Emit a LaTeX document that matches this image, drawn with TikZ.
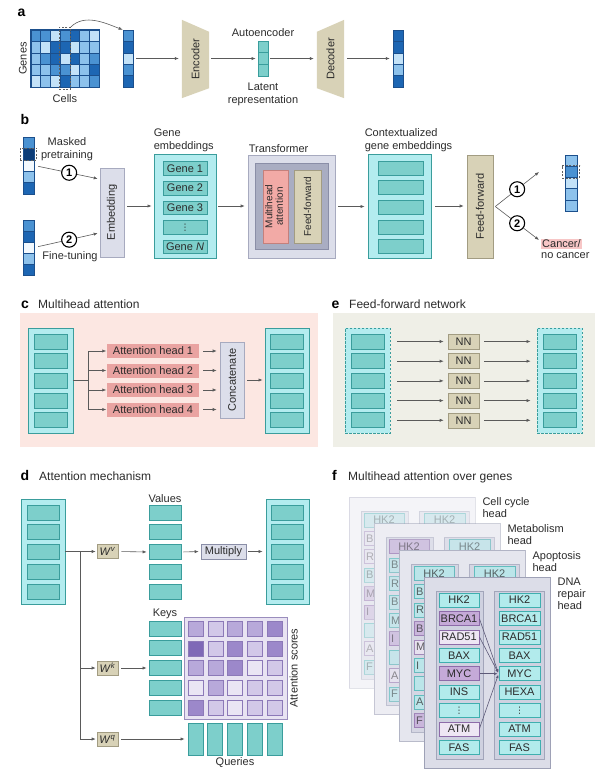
\documentclass[tikz,border=0pt]{standalone}
\usepackage{graphicx}
\usepackage{fontspec}
\setmainfont{Liberation Sans}
\newfontfamily\symfont{DejaVu Sans}
\usetikzlibrary{positioning,arrows.meta,calc,fit,backgrounds}
\setlength{\fboxsep}{1pt}

\definecolor{txt}{HTML}{2B2B2B}
\definecolor{arrowc}{HTML}{5A5A5A}
\definecolor{gexp0}{HTML}{F3F9FE}
\definecolor{gexp1}{HTML}{C3E2F8}
\definecolor{gexp2}{HTML}{8DC2EC}
\definecolor{gexp3}{HTML}{4A92D2}
\definecolor{gexp4}{HTML}{1D66B3}
\definecolor{gexp5}{HTML}{0C3D78}
\definecolor{gbord}{HTML}{1B4F8C}
\definecolor{cyanl}{HTML}{B3ECEF}
\definecolor{tealm}{HTML}{7DCFCB}
\definecolor{tealb}{HTML}{3A9D9C}
\definecolor{beige}{HTML}{D8D2B7}
\definecolor{beiged}{HTML}{A29C82}
\definecolor{lav}{HTML}{DCDEEA}
\definecolor{lavd}{HTML}{A7AABF}
\definecolor{lavdk}{HTML}{A9ADC2}
\definecolor{lavdkb}{HTML}{8A8EA7}
\definecolor{headf}{HTML}{E9A3A1}
\definecolor{mhaf}{HTML}{F2AAA6}
\definecolor{mhab}{HTML}{C4807C}
\definecolor{pinkbg}{HTML}{FCE7E2}
\definecolor{cancerbg}{HTML}{F7C6C6}
\definecolor{ebg}{HTML}{EFEFE7}
\definecolor{attn1}{HTML}{EAE5F4}
\definecolor{attn2}{HTML}{D2C8E8}
\definecolor{attn3}{HTML}{B8A9DA}
\definecolor{attn4}{HTML}{9C88CA}
\definecolor{attn5}{HTML}{7F69B7}
\definecolor{attnb}{HTML}{8C79B8}
\definecolor{scorebg}{HTML}{E8E3F2}
\definecolor{scoreb}{HTML}{9A8DBD}
\definecolor{gcy}{HTML}{B2EBEC}
\definecolor{gcyb}{HTML}{3FAFAF}
\definecolor{gpu}{HTML}{C5AAD8}
\definecolor{glv}{HTML}{EEE6F4}
\definecolor{gpub}{HTML}{8D6BA9}
\definecolor{cardf}{HTML}{DCDDE8}
\definecolor{cardb}{HTML}{9EA1B6}
\definecolor{colf}{HTML}{CFD1E0}
\definecolor{colb}{HTML}{A2A5BA}
\definecolor{genarr}{HTML}{5D5A78}

\begin{document}
\begin{tikzpicture}[x=1pt, y=-1pt,
    font=\fontsize{11}{13}\selectfont,
    lbl/.style={text=txt, inner sep=1pt},
    ttl/.style={font=\fontsize{12}{14}\selectfont, text=txt, inner sep=0pt, anchor=base west},
    ptag/.style={font=\fontsize{14}{14}\selectfont\bfseries, text=black, inner sep=0pt, anchor=base},
    wh/.style 2 args={minimum width=#1, minimum height=#2, inner sep=0pt},
    arr/.style={draw=arrowc, line width=0.6pt, -{Latex[length=4pt, width=3.2pt]}},
    conn/.style={draw=arrowc, line width=0.6pt},
    gcell/.style={draw=gbord, line width=0.5pt},
    dashbox/.style={draw=txt!75, dash pattern=on 2pt off 1.5pt, line width=0.6pt, inner sep=0pt},
    embbox/.style={draw=tealb, fill=cyanl, line width=0.8pt},
    slot/.style={draw=tealb, fill=tealm, line width=0.7pt, text=txt},
    beigebox/.style={draw=beiged, fill=beige, line width=0.6pt, text=txt},
    lavbox/.style={draw=lavd, fill=lav, line width=0.6pt, text=txt},
    headbox/.style={fill=headf, text=txt},
    numc/.style={circle, draw=black, line width=1.1pt, fill=white, minimum size=15pt, inner sep=0pt, font=\fontsize{11}{11}\selectfont\bfseries},
    acell/.style={draw=attnb, line width=0.5pt, wh={15pt}{15pt}},
    card/.style={draw=cardb, fill=cardf, line width=0.7pt, wh={126pt}{191pt}},
    gcol/.style={draw=colb, fill=colf, line width=0.6pt, wh={47pt}{168pt}},
    gbox/.style={line width=0.7pt, text=txt, wh={40pt}{14pt}},
    gt/.style={gbox, fill=gcy, draw=gcyb},
    gp/.style={gbox, fill=gpu, draw=gpub},
    gl/.style={gbox, fill=glv, draw=gpub},
    gtb/.style={gt, text width=36pt, align=left},
    gpb/.style={gp, text width=36pt, align=left},
    glb/.style={gl, text width=36pt, align=left},
    garr/.style={draw=genarr, line width=0.6pt, -{Latex[length=3.5pt, width=2.8pt]}}
]
\useasboundingbox (0,0) rectangle (603,770);

% a: autoencoder
\node[ptag] (taga) at (21.5,17) {a};
\foreach \row [count=\ri] in {{3,3,1,3,4,2,1},{2,1,4,4,1,2,2},{2,3,4,1,4,2,3},{2,2,3,3,1,2,4},{1,2,1,4,2,2,3}}
  \foreach \lev [count=\ci] in \row
    \node[gcell, wh={9.7pt}{11.4pt}, fill=gexp\lev] (m\ri\ci) at ({31+9.7*(\ci-0.5)},{30+11.4*(\ri-0.5)}) {};
\draw[gbord, line width=0.8pt] (m11.north west) rectangle (m57.south east);
\node[dashbox, fit=(m14)(m54), inner xsep=0.5pt, inner ysep=2.5pt] (maskcol) {};
\node[lbl, rotate=90] (geneslbl) at ($(m31.west)+(-8,0)$) {Genes};
\node[lbl, below=3pt of maskcol] (cellslbl) {Cells};
\foreach \lev [count=\i] in {3,4,1,3,4}
  \node[gcell, wh={10pt}{11.4pt}, fill=gexp\lev] (vin\i) at (128,{30+11.4*(\i-0.5)}) {};
\draw[arr] (maskcol.north east) .. controls +(14,-14) and +(-16,-6) .. (vin1.north west);

\node[wh={27pt}{78pt}, text=txt] (enc) at (195.5,59) {\rotatebox{90}{Encoder}};
\foreach \i in {1,2,3}
  \node[slot, wh={10pt}{11.7pt}] (lat\i) at (263,{41+11.7*(\i-0.5)}) {};
\node[lbl, above=3pt of lat1] (autolbl) {Autoencoder};
\node[lbl, below=5pt of lat3, align=center] (latlbl) {Latent\\representation};
\node[wh={27pt}{78pt}, text=txt] (dec) at (330.5,59) {\rotatebox{90}{Decoder}};
\foreach \lev [count=\i] in {4,4,1,2,4}
  \node[gcell, wh={10pt}{11.4pt}, fill=gexp\lev] (vout\i) at (398,{30+11.4*(\i-0.5)}) {};
\begin{scope}[on background layer]
  \fill[beige] (enc.north west) -- ($(enc.north east)+(0,12)$) -- ($(enc.south east)+(0,-10)$) -- (enc.south west) -- cycle;
  \fill[beige] ($(dec.north west)+(0,12)$) -- (dec.north east) -- (dec.south east) -- ($(dec.south west)+(0,-10)$) -- cycle;
\end{scope}
\draw[arr, shorten <=3pt, shorten >=3pt] (vin3.east) -- (vin3.east -| enc.west);
\draw[arr, shorten <=2pt, shorten >=2pt] (enc.east |- lat2) -- (lat2.west);
\draw[arr, shorten <=2pt, shorten >=3pt] (lat2.east) -- (lat2.east -| dec.west);
\draw[arr, shorten <=3pt, shorten >=3pt] (dec.east |- vout3) -- (vout3.west);

% b: transformer model
\node[ptag] (tagb) at (25,125) {b};
\foreach \lev [count=\i] in {3,5,0,2,4}
  \node[gcell, wh={11pt}{11.4pt}, fill=gexp\lev] (bp\i) at (28.5,{137+11.4*(\i-0.5)}) {};
\node[dashbox, fit=(bp2), inner xsep=2.5pt, inner ysep=0.3pt] (maskcell) {};
\node[lbl, align=center] (masklbl) at (67,149) {Masked\\pretraining};
\foreach \lev [count=\i] in {3,4,0,2,4}
  \node[gcell, wh={11pt}{11pt}, fill=gexp\lev] (bf\i) at (28.5,{220+11*(\i-0.5)}) {};
\node[lbl] (ftlbl) at (70,257) {Fine-tuning};
\node[lavbox, wh={24pt}{89pt}] (emb) at (112,212.5) {\rotatebox{90}{Embedding}};
\coordinate (embin1) at ($(emb.north west)+(-2,11)$);
\coordinate (embin2) at ($(emb.south west)+(-2,-24)$);
\draw[arr, shorten <=4pt] (bp3.east) -- (embin1);
\draw[arr, shorten <=4pt] (bf3.east) -- (embin2);
\node[numc] (num1) at ($(bp3.east)!0.55!(embin1)$) {1};
\node[numc] (num2) at ($(bf3.east)!0.55!(embin2)$) {2};

\node[embbox, wh={62pt}{104pt}] (genes) at (185,206) {};
\foreach \gn [count=\i] in {Gene 1,Gene 2,Gene 3,{\symfont\fontsize{9}{9}\selectfont ⋮},Gene \textit{N}}
  \node[slot, wh={44pt}{13.5pt}] (gene\i) at (185,{168.5+19.6*(\i-1)}) {\gn};
\node[lbl, align=left, anchor=south west] (genelbl) at ($(genes.north west)+(-1,-1)$) {Gene\\embeddings};
\draw[arr, shorten <=3pt, shorten >=2pt] (emb.east |- genes.west) -- (genes.west);

\node[lavbox, wh={87pt}{103pt}] (trans) at (291.5,206.5) {};
\node[draw=lavdkb, fill=lavdk, line width=0.6pt, wh={73pt}{86pt}] (transin) at (trans) {};
\node[draw=mhab, fill=mhaf, line width=0.6pt, text=txt, wh={25pt}{73pt}, font=\fontsize{10}{10.5}\selectfont] (mha) at (275.5,206.5) {\rotatebox{90}{\begin{tabular}{@{}c@{}}Multihead\\attention\end{tabular}}};
\node[beigebox, wh={27pt}{73pt}, font=\fontsize{10}{12}\selectfont] (ffin) at (307.5,206.5) {\rotatebox{90}{Feed-forward}};
\node[lbl, anchor=south west] (translbl) at ($(trans.north west)+(0,-1)$) {Transformer};
\draw[arr, shorten <=2pt, shorten >=3pt] (genes.east) -- (genes.east -| trans.west);

\node[embbox, wh={63pt}{104pt}] (ctx) at (399.5,206) {};
\foreach \i in {1,...,5}
  \node[slot, wh={45pt}{14pt}] (ctx\i) at (400.5,{168+19.7*(\i-1)}) {};
\node[lbl, align=left, anchor=south west] (ctxlbl) at ($(ctx.north west)+(-4,-1)$) {Contextualized\\gene embeddings};
\draw[arr, shorten <=3pt, shorten >=3pt] (trans.east) -- (trans.east -| ctx.west);
\node[beigebox, wh={26pt}{103pt}] (ffo) at (480,206.5) {\rotatebox{90}{Feed-forward}};
\draw[arr, shorten <=4pt, shorten >=3pt] (ctx.east) -- (ctx.east -| ffo.west);
\coordinate (fork) at ($(ffo.east)+(2,0)$);
\coordinate (out1) at (539,172);
\coordinate (out2) at (539,240);
\draw[arr] (fork) -- (out1);
\draw[arr] (fork) -- (out2);
\node[numc] (num3) at ($(fork)!0.5!(out1)$) {1};
\node[numc] (num4) at ($(fork)!0.5!(out2)$) {2};
\foreach \lev [count=\i] in {2,3,1,2,2}
  \node[gcell, wh={12pt}{11.2pt}, fill=gexp\lev] (bo\i) at (571,{155+11.2*(\i-0.5)}) {};
\node[dashbox, fit=(bo2), inner xsep=2.5pt, inner ysep=0.3pt] (maskout) {};
\node[lbl, align=left, anchor=west, font=\fontsize{11}{11}\selectfont] (cancerlbl) at (540,249) {\colorbox{cancerbg}{Cancer/}\\no cancer};

% c: multihead attention
\node[fill=pinkbg, wh={298pt}{134pt}] (bgc) at (169,380) {};
\node[ptag] (tagc) at (25,308) {c};
\node[ttl] (ttlc) at (38,308) {Multihead attention};
\node[embbox, wh={45pt}{105pt}] (cin) at (50.5,380.5) {};
\foreach \i in {1,...,5}
  \node[slot, wh={33pt}{15pt}] (cin\i) at (50.5,{341.5+19.7*(\i-1)}) {};
\node[lavbox, wh={24pt}{76pt}] (concat) at (232,380) {\rotatebox{90}{Concatenate}};
\node[embbox, wh={44pt}{105pt}] (cout) at (287,380.5) {};
\foreach \i in {1,...,5}
  \node[slot, wh={33pt}{15pt}] (cout\i) at (287,{341.5+19.7*(\i-1)}) {};
\coordinate (cfork) at ($(cin.east)+(15,0)$);
\foreach \i in {1,...,4} {
  \node[headbox, wh={92pt}{14pt}] (head\i) at (153,{351+19.5*(\i-1)}) {Attention head \i};
  \draw[arr, shorten >=0.5pt] (cfork |- head\i) -- (head\i.west);
  \draw[arr, shorten <=4pt, shorten >=3pt] (head\i.east) -- (head\i.east -| concat.west);
}
\draw[conn] (cin.east) -- (cfork);
\draw[conn] (cfork |- head1) -- (cfork |- head4);
\draw[arr, shorten <=3pt, shorten >=2pt] (concat.east) -- (concat.east -| cout.west);

% e: feed-forward network
\node[fill=ebg, wh={262pt}{134pt}] (bge) at (464,380) {};
\node[ptag] (tage) at (335.5,308) {e};
\node[ttl] (ttle) at (349,308) {Feed-forward network};
\node[embbox, dash pattern=on 2.5pt off 1.5pt, wh={45pt}{105pt}] (ein) at (367.5,380.5) {};
\node[embbox, dash pattern=on 2.5pt off 1.5pt, wh={45pt}{105pt}] (eout) at (559.5,380.5) {};
\foreach \i in {1,...,5} {
  \node[slot, wh={33pt}{15pt}] (ein\i) at (367.5,{341.5+19.7*(\i-1)}) {};
  \node[slot, wh={33pt}{15pt}] (eout\i) at (559.5,{341.5+19.7*(\i-1)}) {};
  \node[beigebox, wh={31pt}{15pt}] (nn\i) at (463.5,{341.5+19.7*(\i-1)}) {NN};
  \draw[arr, shorten <=7pt, shorten >=4pt] (ein\i -| ein.east) -- (nn\i.west);
  \draw[arr, shorten <=5pt, shorten >=6pt] (nn\i.east) -- (nn\i -| eout.west);
}

% d: attention mechanism
\node[ptag] (tagd) at (25,480) {d};
\node[ttl] (ttld) at (39,480) {Attention mechanism};
\node[embbox, wh={44pt}{105pt}] (din) at (43,551.5) {};
\node[embbox, wh={43pt}{105pt}] (dout) at (287.5,551.5) {};
\foreach \i in {1,...,5} {
  \node[slot, wh={32pt}{15pt}] (din\i) at (43,{512.5+19.75*(\i-1)}) {};
  \node[slot, wh={32pt}{15pt}] (dout\i) at (287.5,{512.5+19.75*(\i-1)}) {};
  \node[slot, wh={32pt}{15pt}] (val\i) at (165,{512.5+19.75*(\i-1)}) {};
  \node[slot, wh={32pt}{15pt}] (key\i) at (165,{628.5+19.75*(\i-1)}) {};
}
\node[lbl, above=1pt of val1] (vallbl) {Values};
\node[lbl, above=1pt of key1] (keylbl) {Keys};
\coordinate (dfork) at ($(din.east)+(15,0)$);
\node[beigebox, wh={21pt}{14pt}] (wv) at (107.5,551.5) {\textit{W}\textsuperscript{\textit{v}}};
\node[beigebox, wh={21pt}{14pt}] (wk) at (107.5,668) {\textit{W}\textsuperscript{\textit{k}}};
\node[beigebox, wh={21pt}{14pt}] (wq) at (107.5,739) {\textit{W}\textsuperscript{\textit{q}}};
\draw[conn] (din.east) -- (dfork) -- (dfork |- wq);
\draw[arr, shorten >=1pt] (dfork) -- (wv.west);
\draw[arr, shorten >=1pt] (dfork |- wk) -- (wk.west);
\draw[arr, shorten >=1pt] (dfork |- wq) -- (wq.west);
\draw[arr, shorten <=3pt, shorten >=2pt] (wv.east) -- (val3.west);
\draw[arr, shorten <=3pt, shorten >=2pt] (wk.east) -- (key3.west);
\node[lavbox, draw=lavdkb, wh={45pt}{15pt}] (mult) at (223.5,551.5) {Multiply};
\draw[arr, shorten <=2pt, shorten >=2pt] (val3.east) -- (mult.west);
\draw[arr, shorten <=2pt, shorten >=3pt] (mult.east) -- (mult.east -| dout.west);
\node[draw=scoreb, fill=scorebg, line width=0.7pt, wh={103pt}{102pt}] (scores) at (235.5,668) {};
\foreach \row [count=\ri] in {{3,2,3,3,4},{5,2,4,2,4},{3,3,4,1,2},{1,3,1,2,2},{4,2,1,2,2}}
  \foreach \lev [count=\ci] in \row
    \node[acell, fill=attn\lev] (a\ri\ci) at ({195.5+19.75*(\ci-1)},{628.5+19.75*(\ri-1)}) {};
\node[lbl, right=1pt of scores] (scorelbl) {\rotatebox{90}{Attention scores}};
\foreach \i in {1,...,5}
  \node[slot, wh={15pt}{32pt}] (q\i) at ({195.5+19.75*(\i-1)},739) {};
\node[lbl, below=1pt of q3] (querylbl) {Queries};
\draw[arr, shorten <=3pt, shorten >=3pt] (wq.east) -- (q1.west);

% f: multihead attention over genes
\node[ptag] (tagf) at (334.5,480) {f};
\node[ttl] (ttlf) at (348,480) {Multihead attention over genes};
\foreach \k/\op/\hd/\lcol in {1/0.3/{Cell cycle\\head}/{HK2/gt,B/glb,R/glb,B/gtb,M/gpb,I/gpb,/gtb,A/glb,F/gtb},
    2/0.5/{Metabolism\\head}/{HK2/gp,B/gtb,R/gtb,B/gtb,M/gtb,I/gpb,/gtb,A/glb,F/gtb},
    3/0.72/{Apoptosis\\head}/{HK2/gt,B/gtb,R/gtb,B/gpb,M/glb,I/gtb,/gtb,A/gtb,F/gpb},
    4/1/{DNA\\repair\\head}/{HK2/gt,BRCA1/gp,RAD51/gl,BAX/gt,MYC/gp,INS/gt,{\symfont\fontsize{9}{9}\selectfont ⋮}/gt,ATM/gl,FAS/gt}} {
  \begin{scope}[shift={({25*(\k-1)},{26.7*(\k-1)})}]
    \node[card, fill=white, draw=none] (cardbg\k) at (412,592.5) {};
    \begin{scope}[opacity=\op]
      \node[card] (card\k) at (412,592.5) {};
      \node[gcol] (lcol\k) at (384.5,595) {};
      \node[gcol, minimum width=50pt] (rcol\k) at (444,595) {};
      \foreach \g/\st [count=\i] in \lcol
        \node[\st] (gl\k-\i) at (384,{520+18.4*(\i-1)}) {\g};
      \foreach \g [count=\i] in {HK2,BRCA1,RAD51,BAX,MYC,HEXA,{\symfont\fontsize{9}{9}\selectfont ⋮},ATM,FAS}
        \node[gt, minimum width=41pt] (gr\k-\i) at (444.5,{520+18.4*(\i-1)}) {\ifnum\k=4 \g\else\ifnum\i=1 \g\fi\fi};
    \end{scope}
    \node[lbl, align=left, anchor=north west, font=\fontsize{11}{12}\selectfont] (hd\k) at ($(card\k.north east)+(6,0)$) {\hd};
  \end{scope}
}
\foreach \i in {2,3,5,8}
  \draw[garr, shorten <=0.5pt, shorten >=1pt] (gl4-\i.east) -- (gr4-5.west);

\end{tikzpicture}
\end{document}
